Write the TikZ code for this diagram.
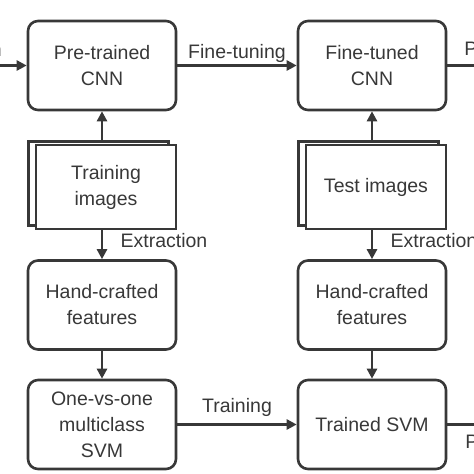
\documentclass[tikz,border=0pt]{standalone}
\usepackage{fontspec}
\setmainfont{Liberation Sans}
\usetikzlibrary{arrows.meta}
\definecolor{ink}{HTML}{383838}
\begin{document}
\begin{tikzpicture}[x=1pt,y=-1pt,line width=2.6pt,draw=ink,text=ink,
	font=\fontsize{19.5}{26}\selectfont,
	box/.style={draw,rounded corners=10pt,minimum width=148pt,minimum height=89pt,align=center,inner sep=0pt},
	sheet/.style={draw,fill=white,minimum width=140pt,minimum height=84pt,align=center,inner sep=0pt},
	arr/.style={-{Triangle[length=10pt,width=10pt]}}]
	\useasboundingbox (0,0) rectangle (474,474);

	%boxes
	\node[box] (pre) at (102,65.5) {Pre-trained\\CNN};
	\node[box] (fine) at (372,65.5) {Fine-tuned\\CNN};
	\node[box] (handl) at (102,305) {Hand-crafted\\features};
	\node[box] (handr) at (372,305) {Hand-crafted\\features};
	\node[box] (svml) at (102,424.5) {One-vs-one\\multiclass\\SVM};
	\node[box] (svmr) at (372,424.5) {Trained SVM};

	%image stacks
	\node[sheet] (trainback) at (98.5,183.5) {};
	\node[sheet] (train) at (106,187) {Training\\images};
	\node[sheet] (testback) at (368.5,183.5) {};
	\node[sheet] (test) at (376,187) {Test images};

	%free ends
	\coordinate (in) at (-2,65.5);
	\coordinate (outtop) at (476,65.5);
	\coordinate (outbot) at (476,424.5);

	%arrows
	\draw[arr] (in) -- (pre.west);
	\draw[arr] (pre) -- (fine) node[midway,above=-2pt] {Fine-tuning};
	\draw (fine.east) -- (outtop);
	\draw[arr] (trainback.north -| pre.south) -- (pre.south);
	\draw[arr] (testback.north -| fine.south) -- (fine.south);
	\draw[arr] (train.south -| handl.north) -- (handl.north) node[midway,right=14pt,yshift=4pt] {Extraction};
	\draw[arr] (test.south -| handr.north) -- (handr.north) node[midway,right=14pt,yshift=4pt] {Extraction};
	\draw[arr] (handl) -- (svml);
	\draw[arr] (handr) -- (svmr);
	\draw[arr] (svml) -- (svmr) node[midway,above=3pt] {Training};
	\draw (svmr.east) -- (outbot);

	%cut labels at the edges
	\node[anchor=base east,inner sep=0pt] (inlabel) at (3,56) {n};
	\node[anchor=base west,inner sep=0pt] (ptop) at (463,55) {P};
	\node[anchor=base west,inner sep=0pt] (pbot) at (464,448) {P};
\end{tikzpicture}
\end{document}
